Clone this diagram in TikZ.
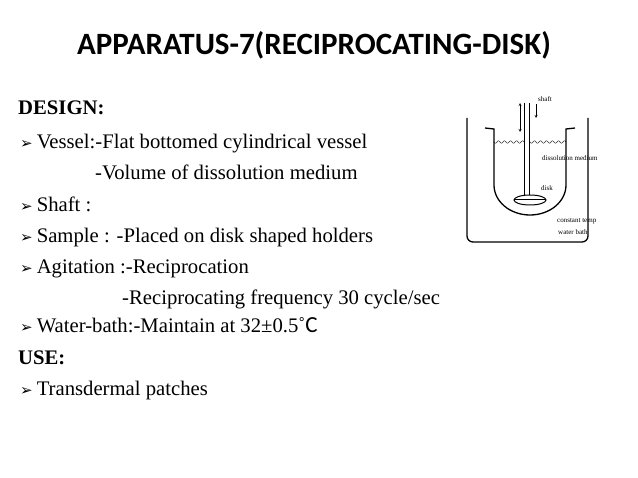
\documentclass[tikz,border=0pt]{standalone}
\usepackage{fontspec}
\setmainfont{Liberation Serif}
\newfontfamily\titlefont{Carlito}
\newfontfamily\symfont{DejaVu Sans}
\begin{document}
\begin{tikzpicture}[x=1pt,y=-1pt,
  body/.style={anchor=base west,inner sep=0pt,font=\fontsize{20.7}{22}\selectfont},
  lbl/.style={anchor=west,inner sep=0pt,font=\fontsize{7}{8}\selectfont},
  ln/.style={line width=1.3pt}]
\useasboundingbox[fill=white] (0,0) rectangle (638,478);
\newcommand{\bul}{{\symfont\fontsize{15}{16}\selectfont ➢}\hspace{4pt}}
\node[inner sep=0pt,font=\titlefont\bfseries\fontsize{31}{34}\selectfont] (title) at (314,45) {APPARATUS-7(RECIPROCATING-DISK)};
\node[body,font=\bfseries\fontsize{20.7}{22}\selectfont] (design) at (18,115) {DESIGN:};
\node[body] (l1) at (20,149) {\bul Vessel:-Flat bottomed cylindrical vessel};
\node[body] (l2) at (95,180) {-Volume of dissolution medium};
\node[body] (l3) at (20,212) {\bul Shaft :};
\node[body] (l4) at (20,243) {\bul Sample : -Placed on disk shaped holders};
\node[body] (l5) at (20,274) {\bul Agitation :-Reciprocation};
\node[body] (l6) at (122,305) {-Reciprocating frequency 30 cycle/sec};
\node[body] (l7) at (20,333) {\bul Water-bath:-Maintain at 32±0.5˚{\titlefont\fontsize{23}{24}\selectfont C}};
\node[body,font=\bfseries\fontsize{20.7}{22}\selectfont] (use) at (18,365) {USE:};
\node[body] (l8) at (20,396) {\bul Transdermal patches};
% apparatus
\draw[ln] (467,118) -- (467,236) arc[start angle=180,end angle=90,radius=6] -- (582,242) arc[start angle=90,end angle=0,radius=6] -- (588,118);
\draw[ln] (485,128) -- (494,129) -- (494,185) arc[start angle=180,end angle=0,x radius=36,y radius=30] -- (566,129) -- (575,128);
\draw[line width=0.4pt] plot[domain=0:30,samples=60] ({494+\x},{142+1.2*sin(\x*60)});
\draw[line width=0.4pt] plot[domain=35:72,samples=70] ({494+\x},{142+1.2*sin(\x*60)});
\draw[line width=0.8pt] (524,103) -- (524,198) (529,103) -- (529,198);
\draw[line width=1pt,fill=white] (530,200) ellipse[x radius=16,y radius=5];
\draw[line width=0.6pt] (515,199) -- (545,199);
\draw[<->,line width=0.4pt,>=stealth] (520,103) -- (520,132);
\coordinate (sp) at (536,118);
\node[lbl] (shaft) at (538,99) {shaft};
\draw[->,line width=0.4pt,>=stealth] (536,104) -- (sp);
\node[lbl] (med) at (542,158) {dissolution medium};
\node[lbl] (disk) at (541,188) {disk};
\node[lbl] (ct) at (557,221) {constant temp};
\node[lbl] (wb) at (558,232) {water bath};
\end{tikzpicture}
\end{document}
